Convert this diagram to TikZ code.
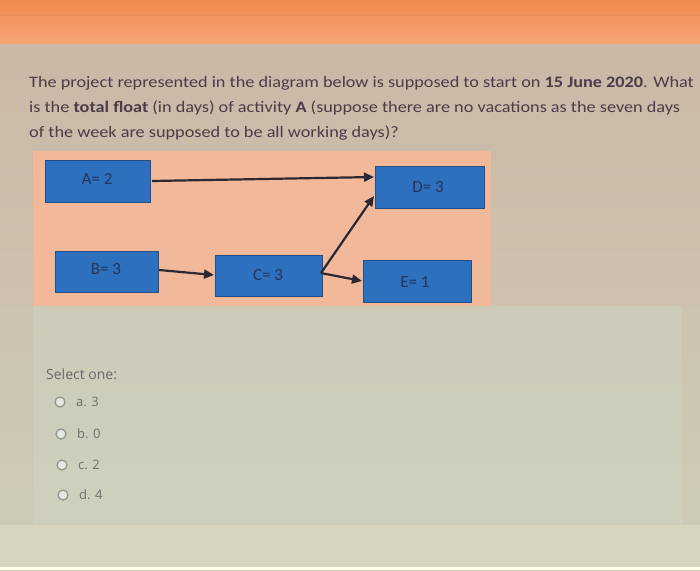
\documentclass[tikz,border=0pt]{standalone}
\usepackage{fontspec}
\setmainfont{Carlito}
\newfontfamily\optfont{Open Sans}
\usetikzlibrary{arrows.meta,shadings}
\definecolor{toporange}{HTML}{F08A4E}
\definecolor{toporangeb}{HTML}{F6A476}
\definecolor{paneltop}{HTML}{CBB8A6}
\definecolor{panelbot}{HTML}{CDCDB9}
\definecolor{innerpanel}{HTML}{D0DBCB}
\definecolor{bottomband}{HTML}{DEDCC6}
\definecolor{peach}{HTML}{F1B99A}
\definecolor{boxblue}{HTML}{2C70BE}
\definecolor{boxedge}{HTML}{234F86}
\definecolor{boxtext}{HTML}{27345A}
\definecolor{arrowcol}{HTML}{2B2833}
\definecolor{qtext}{HTML}{4A3C48}
\definecolor{opttext}{HTML}{6E6F6A}
\definecolor{radioedge}{HTML}{9A958A}
\begin{document}
\begin{tikzpicture}[x=1pt,y=-1pt,
  actbox/.style={draw=boxedge,line width=0.8pt,fill=boxblue},
  boxlabel/.style={text=boxtext,font=\fontsize{17}{19}\selectfont,inner sep=0pt},
  conn/.style={draw=arrowcol,line width=2.2pt,-{Triangle[length=10pt,width=9pt]}},
  qline/.style={anchor=base west,text=qtext,font=\fontsize{16}{19}\selectfont,inner sep=0pt},
  optline/.style={anchor=west,text=opttext,font=\optfont\fontsize{13}{15}\selectfont,inner sep=0pt},
  radio/.style={circle,draw=radioedge,line width=1.3pt,fill=innerpanel!60!white,minimum size=10pt,inner sep=0pt}]
\useasboundingbox (0,0) rectangle (700,570);
% background
\shade[top color=toporange,bottom color=toporangeb] (0,0) rectangle (700,44);
\draw[toporange!80!black,opacity=0.15,line width=0.6pt] (0,15) -- (700,15);
\shade[top color=paneltop,bottom color=panelbot] (0,44) rectangle (700,570);
\fill[innerpanel,opacity=0.35] (33,306) rectangle (682,525);
\fill[bottomband,opacity=0.6] (0,525) rectangle (700,567);
\fill[white!92!yellow] (0,567) rectangle (700,570);
% question text
\node[qline] (q1) at (29,87) {\scalebox{1.14}[1]{The project represented in the diagram below is supposed to start on \textbf{15 June 2020}. What}};
\node[qline] (q2) at (29,112) {\scalebox{1.14}[1]{is the \textbf{total float} (in days) of activity \textbf{A} (suppose there are no vacations as the seven days}};
\node[qline] (q3) at (29,137) {\scalebox{1.14}[1]{of the week are supposed to be all working days)?}};
% diagram background
\fill[peach] (33,151) rectangle (491,306);
% activity boxes
\draw[actbox] (45,160) rectangle (150,202);
\node[boxlabel] (A) at (97,179) {A= 2};
\coordinate (Ar) at (152,181);
\draw[actbox] (375,166) rectangle (484,208);
\node[boxlabel] (D) at (428,187) {D= 3};
\coordinate (Dl) at (374,177);
\coordinate (Dbl) at (374,196);
\draw[actbox] (55,251) rectangle (158,292);
\node[boxlabel] (B) at (106,269) {B= 3};
\coordinate (Br) at (159,270);
\draw[actbox] (215,255) rectangle (322,296);
\node[boxlabel] (C) at (268,275) {C= 3};
\coordinate (Cl) at (214,275);
\coordinate (Cr) at (321,273);
\draw[actbox] (363,260) rectangle (471,302);
\node[boxlabel] (E) at (415,282) {E= 1};
\coordinate (El) at (362,281);
% connectors
\draw[conn] (Ar) -- (Dl);
\draw[conn] (Br) -- (Cl);
\draw[conn] (Cr) -- (Dbl);
\draw[conn] (Cr) -- (El);
% answers
\node[optline,text=qtext!80!white,font=\optfont\fontsize{14}{16}\selectfont] (sel) at (46,374) {Select one:};
\node[radio] (ra) at (60,402) {};
\node[optline] (oa) at (76,402) {a. 3};
\node[radio] (rb) at (61,434) {};
\node[optline] (ob) at (77,434) {b. 0};
\node[radio] (rc) at (62,465) {};
\node[optline] (oc) at (78,465) {c. 2};
\node[radio] (rd) at (63,495) {};
\node[optline] (od) at (79,495) {d. 4};
\end{tikzpicture}
\end{document}
